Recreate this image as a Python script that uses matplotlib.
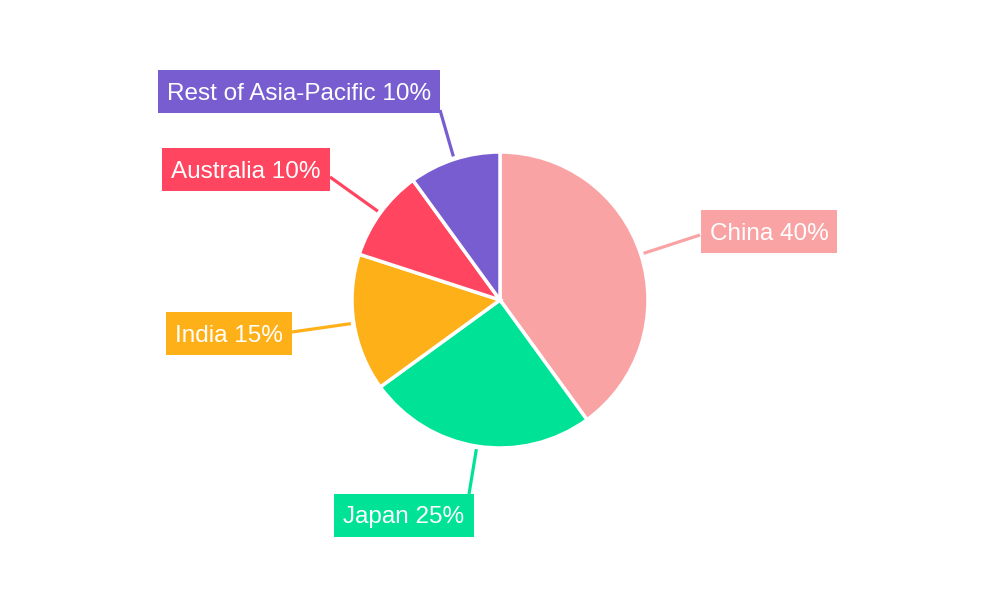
import numpy as np
import matplotlib.pyplot as plt
from matplotlib.patches import Rectangle

# slice data, clockwise from 12 o'clock
regions = ["China", "Japan", "India", "Australia", "Rest of Asia-Pacific"]
shares = [40, 25, 15, 10, 10]
colors = ["#F9A3A4", "#00E396", "#FEB019", "#FF4560", "#775DD0"]

# label box centres and leader-line end points (pixel coords, y from top)
label_pos = [(769, 231.5), (404, 515.5), (229, 333.5), (246, 169.5), (299, 91.5)]
line_end = [(700, 235), (469, 494), (292, 332), (330, 177), (440, 110)]

plt.rcParams['font.family'] = ['Liberation Sans', 'DejaVu Sans']

fig = plt.figure(figsize=(10, 6), dpi=100)
ax = fig.add_axes([0, 0, 1, 1])

cx, cy, r = 500, 300, 148
ax.pie(shares, colors=colors, startangle=90, counterclock=False,
       center=(cx, cy), radius=r, frame=True,
       wedgeprops=dict(edgecolor='white', linewidth=2.5))
ax.set_xlim(0, 1000)
ax.set_ylim(0, 600)
ax.set_aspect('equal')
ax.axis('off')

fig.canvas.draw()
renderer = fig.canvas.get_renderer()

total = sum(shares)
start = 90.0
for name, val, col, (lx, ly), (ex, ey) in zip(regions, shares, colors, label_pos, line_end):
    span = 360.0 * val / total
    mid = np.deg2rad(start - span / 2)
    start -= span
    sx = cx + (r + 3) * np.cos(mid)
    sy = cy + (r + 3) * np.sin(mid)
    ax.plot([sx, ex], [sy, 600 - ey], color=col, lw=2.3, zorder=1, solid_capstyle='butt')
    t = ax.text(lx, 600 - (ly + 8), f"{name} {val}%", ha='center', va='baseline',
                color='white', fontsize=17.5, zorder=4)
    w = t.get_window_extent(renderer).width + 18
    h = 43
    ax.add_patch(Rectangle((lx - w / 2, 600 - ly - h / 2), w, h,
                           facecolor=col, edgecolor='none', zorder=3))

fig.savefig("out.png", dpi=100, facecolor='white')
